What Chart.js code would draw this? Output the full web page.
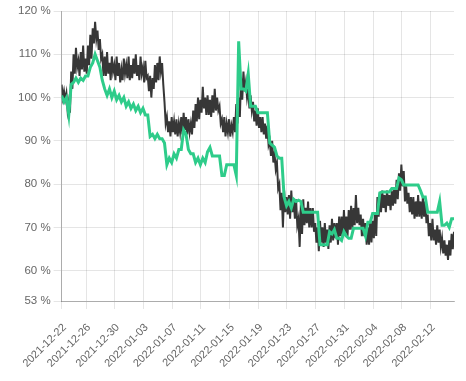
<!DOCTYPE html>
<html>
<head>
<meta charset="utf-8">
<script src="https://cdn.jsdelivr.net/npm/chart.js@4/dist/chart.umd.min.js"></script>
<style>
  html, body { margin: 0; padding: 0; background: #ffffff; }
  #wrap { width: 466px; height: 381px; position: relative; }
</style>
</head>
<body>
<div id="wrap"><canvas id="c"></canvas></div>
<script>
// Time axis: days since 2021-12-22 00:00 (UTC), one sample every 8 hours
const startDay = 0.6;
const stepDay = 1 / 3;

// dark series: upper and lower edge of its noisy band at each sample
const darkHigh = [
  103, 101.5, 101, 99, 106, 110, 111.5, 108.5, 110.5, 112,
  109, 112, 114.5, 116, 117.5, 115.5, 113.5, 110, 109.5, 110.5,
  108, 109.5, 107.5, 109.5, 108, 106.5, 109, 107.5, 109.5, 107.5,
  109, 110, 107.5, 109.5, 107, 108.5, 105, 105, 104.5, 107.5,
  108, 109.5, 108, 99, 95.5, 94.5, 95.5, 94.5, 95, 94,
  95.5, 96.5, 95.5, 95, 94, 97, 98.5, 100, 99.5, 102.5,
  100, 100.5, 99.5, 100.5, 102, 100, 98, 95, 95.5, 94,
  95, 93.5, 95.5, 98.5, 100, 104.5, 106, 103.5, 102, 100.5,
  99, 97, 97.5, 95.5, 95.5, 94, 93.5, 90, 90, 87,
  85, 80, 78, 78.5, 77, 77.5, 78.5, 76.5, 76.5, 72,
  75.5, 76.5, 74.5, 76, 74.5, 74.5, 71, 70, 71.5, 70,
  71, 69.5, 70.5, 72, 71, 71, 72.5, 72.5, 74, 72.5,
  74, 75, 74.5, 77.5, 74.5, 73, 72, 71, 70, 71.5,
  71.5, 73.5, 77, 78, 78.5, 77.5, 78.5, 77.5, 78.5, 79,
  81, 82.5, 84.5, 83, 79.5, 78, 77, 77, 76, 77.5,
  76, 77, 76, 73, 71, 72, 69.5, 70.5, 69.5, 67.5,
  67, 66, 67, 68.5, 69
];
const darkLow = [
  100, 99.5, 97, 96.5, 102, 105.5, 107, 105, 106.5, 106,
  105.5, 107.5, 109, 112.5, 113.5, 111, 109, 105, 105, 105.5,
  104, 106, 104, 105, 103.5, 104, 105.5, 104.5, 104, 104.5,
  105.5, 105, 104, 105.5, 103.5, 104.5, 101.5, 100, 102, 103.5,
  104, 106, 103, 94, 92, 91, 92, 91.5, 91, 92,
  91.5, 92.5, 91.5, 92, 91.5, 93, 94.5, 95, 96.5, 97.5,
  96, 96, 95.5, 96.5, 97, 97, 94, 92, 91, 92,
  91, 92, 92, 94, 95.5, 99.5, 101.5, 100, 97.5, 97,
  94.5, 93.5, 93, 92, 91.5, 90.5, 89, 86.5, 85, 83.5,
  79, 74, 70, 73.5, 73, 72, 73.5, 72, 70.5, 65.5,
  68.5, 70.5, 71, 70, 70, 69, 66.5, 64.5, 66.5, 65.5,
  66.5, 65, 66.5, 67, 67.5, 66, 68, 68, 68.5, 68,
  69.5, 69.5, 70.5, 71, 70.5, 68, 68, 66, 66, 66.5,
  67.5, 68, 72.5, 73.5, 74.5, 73.5, 75, 74, 75, 75.5,
  76.5, 78.5, 79.5, 76, 75.5, 73.5, 73, 72, 72.5, 72.5,
  72, 72.5, 71, 68, 67, 67, 66, 66.5, 65.5, 64,
  63.5, 62.5, 63.5, 65
];

const greenValues = [
  100.5, 99, 100, 96, 103, 103.5, 104.5, 103.5, 104.5, 104,
  105, 105, 107, 108, 110, 108.5, 107, 104, 102, 100.5,
  102, 100, 101.5, 99.5, 100.5, 99, 100, 98, 99, 97.5,
  98.5, 97, 98, 96.5, 97.5, 96, 96, 91, 91.5, 90.5,
  91.5, 90.5, 90.5, 89.5, 84.5, 86, 85, 87, 86, 88,
  88, 92.5, 91.5, 88, 87, 87, 85, 86, 84.5, 86,
  85, 87.5, 88.5, 86.5, 86.5, 86.5, 86.5, 82, 82, 84.5,
  84.5, 84.5, 84.5, 82, 113, 102, 102, 101.5, 105.5, 98,
  98, 98, 96.5, 96.5, 96.5, 96.5, 96.5, 89.5, 89, 88.5,
  86.5, 86, 86, 77, 75, 76, 74.5, 76.5, 76, 76.3,
  76, 73.5, 73.5, 73.5, 73.5, 73.5, 73.5, 73.5, 66, 66,
  66, 66, 69, 68.5, 69.5, 67.5, 67.5, 67, 69, 68,
  67.5, 67.5, 69.8, 69.8, 69.8, 69.8, 69.8, 68, 71.2, 71.2,
  73.2, 73.2, 73.2, 78, 78.2, 78.2, 78.2, 78.2, 79, 79,
  79, 81.4, 81, 79.8, 79.8, 79.8, 79.8, 79.8, 79.8, 79.8,
  78.5, 77, 77, 73.5, 73.5, 73.5, 73.5, 73.5, 76, 70.5,
  70.5, 71, 70, 72, 72
];

const xTickDays = [4, 8, 12, 16, 20, 24, 28, 32, 36, 40, 44, 48, 52];
const yTicks = [53, 60, 70, 80, 90, 100, 110, 120];

const times = greenValues.map((_, i) => startDay + i * stepDay);
const greenPoints = greenValues.map((v, i) => ({ x: times[i], y: v }));
const darkPoints = [];
darkHigh.forEach((v, k) => {
  darkPoints.push({ x: times[k], y: v });
  if (k < darkLow.length) darkPoints.push({ x: times[k] + stepDay / 2, y: darkLow[k] });
});

const baseDate = Date.UTC(2021, 11, 22);
function dayLabel(d) {
  const dt = new Date(baseDate + d * 86400000);
  const m = String(dt.getUTCMonth() + 1).padStart(2, '0');
  const dd = String(dt.getUTCDate()).padStart(2, '0');
  return dt.getUTCFullYear() + '-' + m + '-' + dd;
}

new Chart(document.getElementById('c'), {
  type: 'line',
  data: {
    datasets: [
      {
        label: 'B',
        data: greenPoints,
        borderColor: 'rgb(46, 204, 138)',
        borderWidth: 3,
        pointRadius: 0,
        tension: 0,
        fill: false
      },
      {
        label: 'A',
        data: darkPoints,
        borderColor: 'rgb(55, 55, 55)',
        borderWidth: 2,
        pointRadius: 0,
        tension: 0,
        fill: false
      }
    ]
  },
  options: {
    responsive: true,
    maintainAspectRatio: false,
    animation: false,
    layout: { padding: { top: 11, right: 12, left: 15, bottom: 0 } },
    plugins: { legend: { display: false }, tooltip: { enabled: false } },
    scales: {
      x: {
        type: 'linear',
        min: times[0],
        max: times[times.length - 1],
        afterBuildTicks: axis => {
          axis.ticks = [{ value: times[0] }].concat(xTickDays.map(v => ({ value: v })));
        },
        afterFit: axis => { axis.height = 80; },
        ticks: {
          autoSkip: false,
          maxRotation: 45,
          minRotation: 45,
          padding: 12,
          labelOffset: 3,
          color: '#666',
          font: { size: 11 },
          callback: v => dayLabel(v)
        },
        grid: { color: 'rgba(0,0,0,0.1)' },
        border: { color: 'rgba(0,0,0,0.25)' }
      },
      y: {
        min: 53,
        max: 120,
        afterBuildTicks: axis => {
          axis.ticks = yTicks.map(v => ({ value: v }));
        },
        ticks: {
          color: '#666',
          font: { size: 11.5 },
          callback: v => v + ' %'
        },
        grid: { color: 'rgba(0,0,0,0.1)' },
        border: { color: 'rgba(0,0,0,0.25)' }
      }
    }
  }
});
</script>
</body>
</html>
